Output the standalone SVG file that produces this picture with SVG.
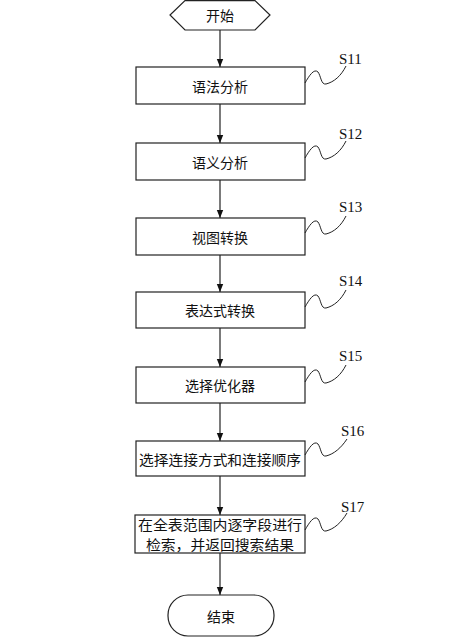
<svg xmlns="http://www.w3.org/2000/svg" width="474" height="637" viewBox="0 0 474 637">
<style>
.box{fill:#fff;stroke:#222;stroke-width:1.2}
.t{font-family:"Noto Sans CJK SC",sans-serif;font-size:14px;fill:#111;text-anchor:middle;dominant-baseline:central}
.lbl{font-family:"Liberation Serif",serif;font-size:15px;fill:#111}
.sq{fill:none;stroke:#222;stroke-width:1}
.ar{stroke:#222;stroke-width:1.2;fill:none}
</style>
<defs>
<marker id="a" markerWidth="8" markerHeight="10" refX="10" refY="4" orient="auto" markerUnits="userSpaceOnUse" viewBox="0 0 10 8">
<path d="M0,0 L10,4 L0,8 Z" fill="#111"/>
</marker>
</defs>
<rect width="474" height="637" fill="#fff"/>
<g id="connectors">
<line class="ar" x1="220" y1="30" x2="220" y2="67" marker-end="url(#a)"/>
<line class="ar" x1="220" y1="104" x2="220" y2="143" marker-end="url(#a)"/>
<line class="ar" x1="220" y1="180" x2="220" y2="218" marker-end="url(#a)"/>
<line class="ar" x1="220" y1="255" x2="220" y2="292" marker-end="url(#a)"/>
<line class="ar" x1="220" y1="328" x2="220" y2="367" marker-end="url(#a)"/>
<line class="ar" x1="220" y1="403" x2="220" y2="441" marker-end="url(#a)"/>
<line class="ar" x1="220" y1="476" x2="220" y2="515" marker-end="url(#a)"/>
<line class="ar" x1="220" y1="553" x2="220" y2="595" marker-end="url(#a)"/>
</g>
<g id="start">
<polygon class="box" points="185,0.6 255,0.6 270,15 255,30 185,30 170,15"/>
<text class="t" x="220" y="15">开始</text>
</g>
<g id="S11">
<rect class="box" x="136" y="67" width="169" height="37"/>
<text class="t" x="220" y="86">语法分析</text>
<path class="sq" d="M305,83 C309,76 314,68 318,72 C321,76 321,85 326,84 C334,82 341,76 346,66"/>
<text class="lbl" x="339" y="64">S11</text>
</g>
<g id="S12">
<rect class="box" x="136" y="143" width="169" height="37"/>
<text class="t" x="220" y="162">语义分析</text>
<path class="sq" d="M305,158 C309,151 314,143 318,147 C321,151 321,160 326,159 C334,157 341,151 346,141"/>
<text class="lbl" x="339" y="139">S12</text>
</g>
<g id="S13">
<rect class="box" x="136" y="218" width="169" height="37"/>
<text class="t" x="220" y="237">视图转换</text>
<path class="sq" d="M305,233 C309,226 314,218 318,222 C321,226 321,235 326,234 C334,232 341,226 346,216"/>
<text class="lbl" x="339" y="212">S13</text>
</g>
<g id="S14">
<rect class="box" x="136" y="292" width="169" height="36"/>
<text class="t" x="220" y="310">表达式转换</text>
<path class="sq" d="M305,307 C309,300 314,292 318,296 C321,300 321,309 326,308 C334,306 341,300 346,290"/>
<text class="lbl" x="339" y="286">S14</text>
</g>
<g id="S15">
<rect class="box" x="136" y="367" width="169" height="36"/>
<text class="t" x="220" y="385">选择优化器</text>
<path class="sq" d="M305,382 C309,375 314,367 318,371 C321,375 321,384 326,383 C334,381 341,375 346,365"/>
<text class="lbl" x="339" y="361">S15</text>
</g>
<g id="S16">
<rect class="box" x="136" y="441" width="169" height="35"/>
<text class="t" x="220" y="458.5" textLength="162" lengthAdjust="spacingAndGlyphs">选择连接方式和连接顺序</text>
<path class="sq" d="M305,455 C309,448 314,440 318,444 C321,448 321,457 326,456 C334,454 341,448 347,439"/>
<text class="lbl" x="341" y="436">S16</text>
</g>
<g id="S17">
<rect class="box" x="135" y="515" width="170" height="38"/>
<text class="t" x="220" y="524" font-size="13.5" textLength="164" lengthAdjust="spacingAndGlyphs">在全表范围内逐字段进行</text>
<text class="t" x="220" y="543.5" font-size="13.5" textLength="148" lengthAdjust="spacingAndGlyphs">检索，并返回搜索结果</text>
<path class="sq" d="M305,530 C309,523 314,515 318,519 C321,523 321,532 326,531 C334,529 341,523 347,513"/>
<text class="lbl" x="341" y="512">S17</text>
</g>
<g id="end">
<rect class="box" x="168" y="595" width="106" height="41" rx="20" ry="20"/>
<text class="t" x="221" y="616">结束</text>
</g>
</svg>
